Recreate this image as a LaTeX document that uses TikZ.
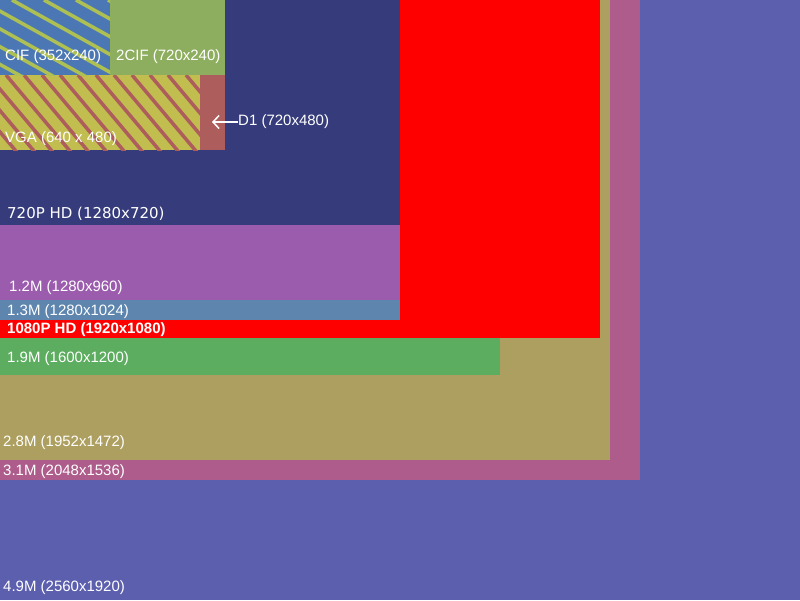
\documentclass[tikz,border=0pt]{standalone}
\usepackage{fontspec}
\setmainfont{Liberation Sans}
\newfontfamily\dejavu{DejaVu Sans}
\usetikzlibrary{arrows.meta}
\definecolor{cBig}{HTML}{5C5EAE}
\definecolor{cThree}{HTML}{AD5C8B}
\definecolor{cTwoEight}{HTML}{AD9F5F}
\definecolor{cOneNine}{HTML}{5CAD5F}
\definecolor{cRed}{HTML}{FF0000}
\definecolor{cOneThree}{HTML}{5E85AE}
\definecolor{cOneTwo}{HTML}{9B5CAE}
\definecolor{cHD}{HTML}{363C7B}
\definecolor{cDOne}{HTML}{AD5E5C}
\definecolor{cTwoCIF}{HTML}{8DAE5E}
\definecolor{cCIF}{HTML}{4B78B4}
\definecolor{cCIFh}{HTML}{AFC052}
\definecolor{cVGA}{HTML}{C2BD4F}
\definecolor{cVGAh}{HTML}{AD5E5C}
\tikzset{
  lbl/.style={anchor=west, inner sep=0pt, text=white, font=\fontsize{15}{18}\selectfont},
  lblhd/.style={lbl, font=\dejavu\fontsize{15}{18}\selectfont},
  lblbold/.style={lbl, font=\bfseries\fontsize{15}{18}\selectfont}
}
\begin{document}
\begin{tikzpicture}[x=1pt,y=-1pt]
\useasboundingbox (0,0) rectangle (800,600);
% rectangles, largest first
\fill[cBig] (0,0) rectangle (800,600);
\fill[cThree] (0,0) rectangle (640,480);
\fill[cTwoEight] (0,0) rectangle (610,460);
\fill[cOneNine] (0,0) rectangle (500,375);
\fill[cRed] (0,0) rectangle (600,337.5);
\fill[cOneThree] (0,0) rectangle (400,320);
\fill[cOneTwo] (0,0) rectangle (400,300);
\fill[cHD] (0,0) rectangle (400,225);
\fill[cDOne] (0,0) rectangle (225,150);
\fill[cTwoCIF] (0,0) rectangle (225,75);
% VGA hatched
\begin{scope}
\clip (0,75) rectangle (200,150);
\fill[cVGA] (0,75) rectangle (200,150);
\foreach \k in {-120,-102,...,220}
  \draw[cVGAh, line width=3.5pt] (\k,75) -- ++(90,107);
\end{scope}
% CIF hatched
\begin{scope}
\clip (0,0) rectangle (110,75);
\fill[cCIF] (0,0) rectangle (110,75);
\foreach \k in {-180,-148,...,120}
  \draw[cCIFh, line width=3.5pt] (\k,0) -- ++(180,100);
\end{scope}
% labels
\node[lbl] (cif) at (5,57) {CIF (352x240)};
\node[lbl] (twocif) at (116,57) {2CIF (720x240)};
\node[lbl] (vga) at (5,139) {VGA (640 x 480)};
\node[lbl] (d1) at (238,122) {D1 (720x480)};
\coordinate (d1tip) at (212,122);
\draw[white, line width=1.5pt, -{Straight Barb[length=6pt,width=13pt]}] (d1.west) -- (d1tip);
\node[lblhd] (hd) at (7,214) {720P HD (1280x720)};
\node[lbl] (m12) at (9,288) {1.2M (1280x960)};
\node[lbl] (m13) at (7,312) {1.3M (1280x1024)};
\node[lblbold] (fhd) at (7,330) {1080P HD (1920x1080)};
\node[lbl] (m19) at (7,359) {1.9M (1600x1200)};
\node[lbl] (m28) at (3,443) {2.8M (1952x1472)};
\node[lbl] (m31) at (3,472) {3.1M (2048x1536)};
\node[lbl] (m49) at (3,588) {4.9M (2560x1920)};
\end{tikzpicture}
\end{document}
